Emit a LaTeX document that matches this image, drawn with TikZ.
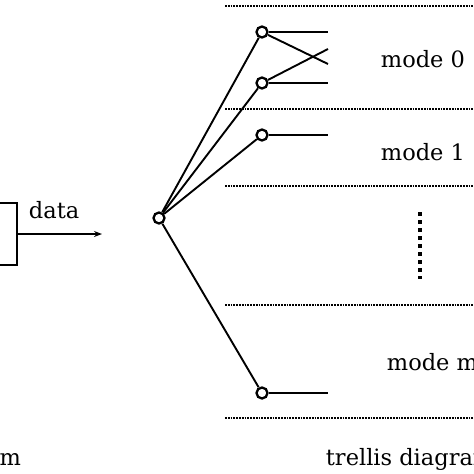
\documentclass[tikz,border=0pt]{standalone}
\usepackage{fontspec}
\setmainfont{DejaVu Serif}
\usetikzlibrary{arrows.meta}
\tikzset{every picture/.style={line width=1.9pt}}
\tikzset{
	state/.style={draw, circle, inner sep=0pt, minimum size=11pt, line width=2.3pt, fill=white},
	modeline/.style={line width=1.8pt, dash pattern=on 1.8pt off 1pt},
	label text/.style={font=\fontsize{22.5}{26}\selectfont, inner sep=0pt, anchor=base west}}
\begin{document}
\begin{tikzpicture}[x=1pt,y=1pt,yscale=-1,xscale=1]
	\useasboundingbox (0,0) rectangle (474,474);

	%Shape: Rectangle [id:src]
	\draw (-30,203) rectangle (17,265);
	\coordinate (srcout) at (17,234);
	\coordinate (dataend) at (102,234);
	\draw [-{Stealth[length=8pt,width=6pt]}] (srcout) -- (dataend);

	%Shape: Dotted lines
	\draw [modeline] (225,6) -- (480,6);
	\draw [modeline] (225,109) -- (480,109);
	\draw [modeline] (225,186) -- (480,186);
	\draw [modeline] (225,305) -- (480,305);
	\draw [modeline] (225,418) -- (480,418);
	%Shape: Vertical dots
	\draw [line width=4pt, dash pattern=on 4pt off 4pt] (420,212) -- (420,279);

	%Shape: States
	\node [state] (root) at (159,218) {};
	\node [state] (a0) at (262,32) {};
	\node [state] (b0) at (262,83) {};
	\node [state] (a1) at (262,135) {};
	\node [state] (am) at (262,393) {};
	\coordinate (a0r) at (328,32);
	\coordinate (a0x) at (328,64);
	\coordinate (b0r) at (328,83);
	\coordinate (b0x) at (328,49);
	\coordinate (a1r) at (328,135);
	\coordinate (amr) at (328,393);

	\draw (root) -- (a0);
	\draw (root) -- (b0);
	\draw (root) -- (a1);
	\draw (root) -- (am);
	\draw (a0) -- (a0r);
	\draw (a0) -- (a0x);
	\draw (b0) -- (b0r);
	\draw (b0) -- (b0x);
	\draw (a1) -- (a1r);
	\draw (am) -- (amr);

	% Text Node
	\node [label text] (tdata) at (28,218) {data};
	% Text Node
	\node [label text] (tm0) at (380,67) {mode 0};
	% Text Node
	\node [label text] (tm1) at (380,160) {mode 1};
	% Text Node
	\node [label text] (tmm) at (386,370) {mode m};
	% Text Node
	\node [label text] (ttrellis) at (325,465) {trellis diagram};
	% Text Node
	\node [label text, anchor=base east] (tleft) at (22,465) {m};

\end{tikzpicture}
\end{document}
